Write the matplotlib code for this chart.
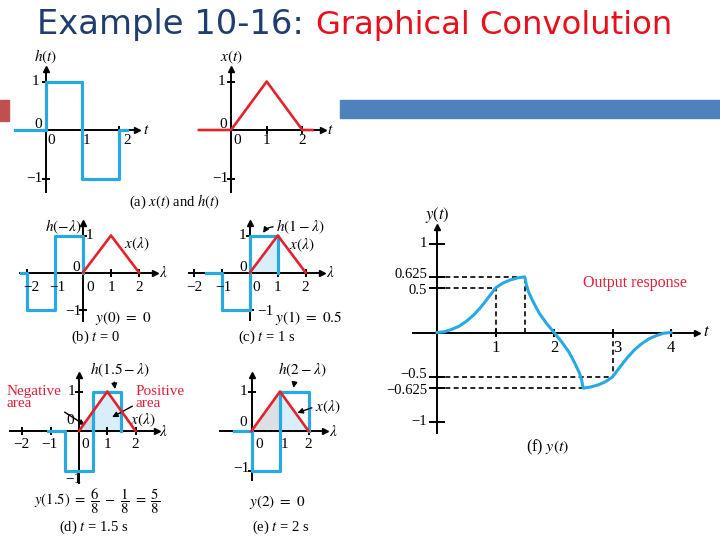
import numpy as np
import matplotlib
matplotlib.use('Agg')
import matplotlib.pyplot as plt
from matplotlib.patches import Rectangle

plt.rcParams['font.family'] = 'Liberation Serif'
plt.rcParams['mathtext.fontset'] = 'stix'

W, H = 720, 540
BLUE = '#29A9E1'
RED = '#E3222B'
TXTRED = '#E0203A'

# ---- data ----
# (a) h(t) and x(t)
ha_t = [-0.84, 0, 0, 1, 1, 2, 2, 2.22]
ha_v = [0, 0, 1, 1, -1, -1, 0, 0]
xa_t = [-0.9, 0, 1, 2, 2.28]
xa_v = [0, 0, 1, 0, 0]

# x(lambda) used in (b)-(e)
lam_x = [0, 1, 2]
x_lam = [0, 1, 0]

# h(t - lambda) for t = 0, 1, 1.5, 2
hb_l = [-2.2, -2, -2, -1, -1, 0, 0]
hc_l = [-1.57, -1, -1, 0, 0, 1, 1]
hd_l = [-1.1, -0.5, -0.5, 0.5, 0.5, 1.5, 1.5]
he_l = [-0.63, 0, 0, 1, 1, 2, 2]
h_shift_v = [0, 0, -1, -1, 1, 1, 0]

# shaded areas
area_c_l, area_c_v = [0, 1], [0, 1]
neg_d_l, neg_d_v = [0, 0.5], [0, 0.5]
pos_d_l, pos_d_v = [0.5, 1, 1.5], [0.5, 1, 0.5]
neg_e_l, neg_e_v = [0, 1], [0, 1]
pos_e_l, pos_e_v = [1, 2], [1, 0]

# (f) output y(t)
y_t = [0, 0.125, 0.25, 0.375, 0.5, 0.625, 0.75, 0.875, 1.0, 1.125, 1.25, 1.375, 1.5,
       1.53, 1.5625, 1.625, 1.6875, 1.75, 1.875, 2.0, 2.125, 2.25, 2.3125, 2.375,
       2.4375, 2.47, 2.5, 2.625, 2.75, 2.875, 3.0, 3.125, 3.25, 3.375, 3.5, 3.625,
       3.75, 3.875, 4.0]
y_v = [0, 0.008, 0.035, 0.07, 0.125, 0.195, 0.285, 0.39, 0.5, 0.555, 0.59, 0.613, 0.625,
       0.53, 0.46, 0.37, 0.29, 0.215, 0.1, 0, -0.1, -0.215, -0.29, -0.37,
       -0.46, -0.53, -0.625, -0.613, -0.59, -0.555, -0.5, -0.39, -0.285, -0.195, -0.125, -0.07,
       -0.035, -0.008, 0]
mark_t = [1, 1.5, 2.5, 3]
mark_v = [0.5, 0.625, -0.625, -0.5]
yt_f = [-1, -0.625, -0.5, 0.5, 0.625, 1]
yt_f_lab = ['\u22121', '\u22120.625', '\u22120.5', '0.5', '0.625', '1']
xt_f = [1, 2, 3, 4]

fig = plt.figure(figsize=(7.2, 5.4), dpi=100)
fig.patch.set_facecolor('white')


def panel(ox, oy, ux, uy, xlim, ylim, tl=6):
    # origin at pixel (ox, oy), ux/uy pixels per unit
    x0, x1 = xlim
    y0, y1 = ylim
    ax = fig.add_axes([(ox + x0 * ux) / W, 1 - (oy - y0 * uy) / H,
                       (x1 - x0) * ux / W, (y1 - y0) * uy / H])
    ax.set_xlim(x0, x1)
    ax.set_ylim(y0, y1)
    ax.patch.set_visible(False)
    for s in ('top', 'right'):
        ax.spines[s].set_visible(False)
    for s in ('left', 'bottom'):
        ax.spines[s].set_position(('data', 0))
        ax.spines[s].set_linewidth(1.4)
    ax.plot(1, 0, '>k', ms=5, transform=ax.get_yaxis_transform(), clip_on=False)
    ax.plot(0, 1, '^k', ms=5, transform=ax.get_xaxis_transform(), clip_on=False)
    ax.tick_params(direction='inout', length=tl, width=1.4,
                   labelbottom=False, labelleft=False)
    return ax


def lab(ax, x, y, s, dx=0, dy=0, size=11, ha='center', va='center', **kw):
    ax.annotate(s, (x, y), xytext=(dx, dy), textcoords='offset pixels',
                ha=ha, va=va, fontsize=size, **kw)


def ftext(px, py, s, size=10.5, ha='center', va='center', **kw):
    fig.text(px / W, 1 - py / H, s, fontsize=size, ha=ha, va=va, **kw)


ARW = dict(arrowstyle='-|>', color='k', lw=1.0, mutation_scale=8, shrinkA=0, shrinkB=0)
MINUS = ['\u22122', '\u22121', '0', '1', '2']

# ---- slide decoration ----
fig.patches.append(Rectangle((0, 1 - 121 / H), 9 / W, 21 / H, transform=fig.transFigure,
                             color='#C0504D', zorder=0))
fig.patches.append(Rectangle((340 / W, 1 - 118 / H), 380 / W, 18 / H, transform=fig.transFigure,
                             color='#4F81BD', zorder=0))
ftext(37, 34, 'Example 10-16:', size=24.3, ha='left', va='baseline',
      family='DejaVu Sans', color='#1F3D6E')
ftext(316, 34, 'Graphical Convolution', size=23.2, ha='left', va='baseline',
      family='DejaVu Sans', color='#E8101C')

# ---- (a) ----
ax = panel(45.7, 130, 36.7, 48.5, (-0.84, 2.49), (-1.28, 1.26))
ax.set_xticks([1, 2]); ax.set_yticks([-1, 1])
ax.plot(ha_t, ha_v, color=BLUE, lw=2.3, zorder=3, clip_on=False)
lab(ax, 0, ax.get_ylim()[1], '$h(t)$', 0, 12)
lab(ax, 0, 1, '1', -10, 0); lab(ax, 0, 0, '0', -8, 6); lab(ax, 0, -1, '\u22121', -11, 0)
lab(ax, 0, 0, '0', 5, -10); lab(ax, 1, 0, '1', 4, -10); lab(ax, 2, 0, '2', 8, -10)
lab(ax, ax.get_xlim()[1], 0, '$t$', 9, 0)

ax = panel(231, 130, 35.7, 48.5, (-0.9, 2.58), (-1.28, 1.26))
ax.set_xticks([1, 2]); ax.set_yticks([-1, 1])
ax.plot(xa_t, xa_v, color=RED, lw=1.9, zorder=3, clip_on=False)
lab(ax, 0, ax.get_ylim()[1], '$x(t)$', 0, 12)
lab(ax, 0, 1, '1', -10, 0); lab(ax, 0, 0, '0', -8, 6); lab(ax, 0, -1, '\u22121', -11, 0)
lab(ax, 0, 0, '0', 6, -10); lab(ax, 1, 0, '1', 0, -10); lab(ax, 2, 0, '2', 0, -10)
lab(ax, ax.get_xlim()[1], 0, '$t$', 7, 0)
ftext(175, 202, r'(a) $x(t)$ and $h(t)$')

# ---- (b) t = 0 ----
ax = panel(83, 272.5, 28, 37, (-2.25, 2.57), (-1.32, 1.34))
ax.set_xticks([-2, -1, 1, 2]); ax.set_yticks([-1, 1])
ax.plot(hb_l, h_shift_v, color=BLUE, lw=2.3, zorder=3, clip_on=False)
ax.plot(lam_x, x_lam, color=RED, lw=1.9, zorder=4, clip_on=False)
lab(ax, 0, ax.get_ylim()[1], r'$h(-\lambda)$', -20, -4)
lab(ax, 1.5, 0.5, r'$x(\lambda)$', 12, 10)
lab(ax, 0, 0, '0', -7, 5); lab(ax, 0, 1, '1', 6, 0); lab(ax, 0, -1, '\u22121', -10, -2)
for v, s, d in zip([-2, -1, 0, 1, 2], MINUS, [4, 2, 7, 0, 0]):
    lab(ax, v, 0, s, d, -15)
lab(ax, ax.get_xlim()[1], 0, r'$\lambda$', 8, 0)
ftext(123, 318, r'$y(0)\ =\ 0$', size=11)
ftext(95, 337, r'(b) $t$ = 0')

# ---- (c) t = 1 s ----
ax = panel(250, 272.5, 27.8, 37, (-2.2, 2.6), (-1.28, 1.34))
ax.set_xticks([-2, -1, 1, 2]); ax.set_yticks([-1, 1])
ax.fill_between(area_c_l, area_c_v, color='#D8EEF9', zorder=1)
ax.plot(hc_l, h_shift_v, color=BLUE, lw=2.3, zorder=3, clip_on=False)
ax.plot(lam_x, x_lam, color=RED, lw=1.9, zorder=4, clip_on=False)
ax.annotate(r'$h(1-\lambda)$', (0.47, 1.07), xytext=(37, 6), textcoords='offset pixels',
            ha='center', va='center', fontsize=11,
            arrowprops=dict(ARW, relpos=(0, 0.5), connectionstyle='arc3,rad=0.3'))
lab(ax, 1.5, 0.5, r'$x(\lambda)$', 10, 9)
lab(ax, 0, 0, '0', -7, 5); lab(ax, 0, 1, '1', -8, 0); lab(ax, 0, -1, '\u22121', 15, -2)
for v, s, d in zip([-2, -1, 0, 1, 2], MINUS, [0, 1, 6, 0, 0]):
    lab(ax, v, 0, s, d, -15)
lab(ax, ax.get_xlim()[1], 0, r'$\lambda$', 8, 0)
ftext(309, 318, r'$y(1)\ =\ 0.5$', size=11)
ftext(267, 337, r'(c) $t$ = 1 s')

# ---- (d) t = 1.5 s ----
ax = panel(79, 431, 28.3, 39.5, (-2.44, 2.76), (-1.32, 1.42))
ax.set_xticks([-2, -1, 1, 2]); ax.set_yticks([-1, 1])
ax.fill_between(neg_d_l, neg_d_v, color='#D5DEE6', zorder=1)
ax.fill_between(pos_d_l, pos_d_v, color='#D8EEF9', zorder=1)
ax.plot(hd_l, h_shift_v, color=BLUE, lw=2.3, zorder=3, clip_on=False)
ax.plot(lam_x, x_lam, color=RED, lw=1.9, zorder=4, clip_on=False)
ax.annotate(r'$h(1.5-\lambda)$', (1.27, 1.06), xytext=(5, 19), textcoords='offset pixels',
            ha='center', va='center', fontsize=11, arrowprops=dict(ARW, relpos=(0.4, 0)))
ax.annotate('Negative\narea', (0.21, 0.15), xytext=(-78, 28), textcoords='offset pixels',
            ha='left', va='center', fontsize=11, color=TXTRED, linespacing=0.9,
            arrowprops=dict(ARW, relpos=(0.87, 0.15)))
ax.annotate('Positive\narea', (1.17, 0.35), xytext=(23, 20), textcoords='offset pixels',
            ha='left', va='center', fontsize=11, color=TXTRED, linespacing=0.9,
            arrowprops=dict(ARW, relpos=(0, 0.2)))
lab(ax, 2, 0, r'$x(\lambda)$', 7, 11)
lab(ax, 0, 0, '0', -9, 10); lab(ax, 0, 1, '1', -8, 0); lab(ax, 0, -1, '\u22121', -6, -9)
for v, s, d in zip([-2, -1, 0, 1, 2], MINUS, [-1, -1, 6, 0, 0]):
    lab(ax, v, 0, s, d, -14)
lab(ax, ax.get_xlim()[1], 0, r'$\lambda$', 6, 0)
ftext(97, 501, r'$y(1.5)\ =\ \dfrac{6}{8}\ -\ \dfrac{1}{8}\ =\ \dfrac{5}{8}$', size=10.5)
ftext(94, 527, r'(d) $t$ = 1.5 s')

# ---- (e) t = 2 s ----
ax = panel(251.5, 431, 28.5, 39.5, (-1.1, 2.58), (-1.24, 1.42))
ax.set_xticks([1, 2]); ax.set_yticks([-1, 1])
ax.fill_between(neg_e_l, neg_e_v, color='#DCDFE3', zorder=1)
ax.fill_between(pos_e_l, pos_e_v, color='#D8EEF9', zorder=1)
ax.plot(he_l, h_shift_v, color=BLUE, lw=2.3, zorder=3, clip_on=False)
ax.plot(lam_x, x_lam, color=RED, lw=1.9, zorder=4, clip_on=False)
ax.annotate(r'$h(2-\lambda)$', (1.47, 1.09), xytext=(9, 18), textcoords='offset pixels',
            ha='center', va='center', fontsize=11, arrowprops=dict(ARW, relpos=(0.35, 0)))
ax.annotate(r'$x(\lambda)$', (1.61, 0.46), xytext=(30, 6), textcoords='offset pixels',
            ha='center', va='center', fontsize=11, arrowprops=dict(ARW, relpos=(0, 0.5)))
lab(ax, 0, 0, '0', -8, 9); lab(ax, 0, 1, '1', -8, 0); lab(ax, 0, -1, '\u22121', -10, 2)
for v, s, d in zip([0, 1, 2], ['0', '1', '2'], [8, 4, 0]):
    lab(ax, v, 0, s, d, -14)
lab(ax, ax.get_xlim()[1], 0, r'$\lambda$', 8, 0)
ftext(277, 502, r'$y(2)\ =\ 0$', size=11)
ftext(281, 527, r'(e) $t$ = 2 s')

# ---- (f) y(t) ----
ax = panel(437, 332.5, 58.5, 89, (-0.41, 4.44), (-1.13, 1.19))
ax.tick_params(axis='y', length=11)
ax.set_xticks(xt_f); ax.set_yticks(yt_f)
for t, v in zip(mark_t, mark_v):
    ax.plot([0, t], [v, v], color='k', lw=1.2, dashes=(3, 2), zorder=2)
    if t != 2.5:
        ax.plot([t, t], [0, v], color='k', lw=1.2, dashes=(3, 2), zorder=2)
ax.plot(y_t, y_v, color=BLUE, lw=2.2, zorder=3, clip_on=False)
# nudge the close pairs apart a little
nudge = {0.625: 2, 0.5: -2, -0.5: 2, -0.625: -2}
for v, s in zip(yt_f, yt_f_lab):
    lab(ax, 0, v, s, -10, nudge.get(v, 0), size=10.5, ha='right')
for v, d in zip(xt_f, [0, 0, 5, 0]):
    lab(ax, v, 0, str(v), d, -15, size=12)
lab(ax, 0, ax.get_ylim()[1], '$y(t)$', 0, 12, size=12)
lab(ax, ax.get_xlim()[1], 0, '$t$', 10, 0, size=12)
ftext(583, 283, 'Output response', size=11.5, ha='left', color=TXTRED)
ftext(548, 447, r'(f) $y(t)$', size=11.5)

fig.savefig('out.png', dpi=100)
